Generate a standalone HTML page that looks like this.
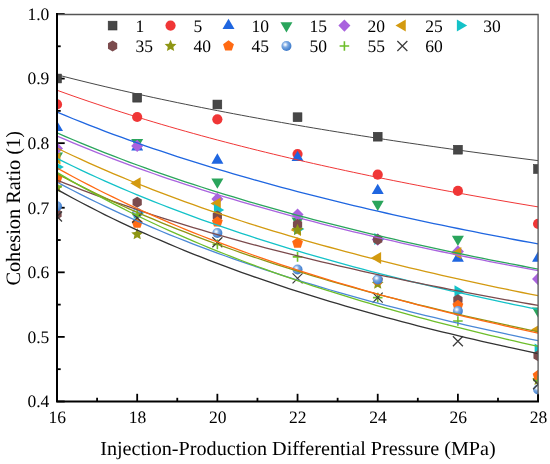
<!DOCTYPE html>
<html><head><meta charset="utf-8"><style>
html,body{margin:0;padding:0;background:#fff;}
text{text-rendering:geometricPrecision;}
svg{display:block;will-change:transform;}
.t{font-family:"Liberation Serif",serif;font-size:17.5px;fill:#000;}
.ti{font-family:"Liberation Serif",serif;font-size:20px;fill:#000;}
</style></head><body>
<svg width="550" height="464" viewBox="0 0 550 464">
<defs>
<radialGradient id="sph" cx="0.38" cy="0.36" r="0.7">
<stop offset="0" stop-color="#ffffff"/><stop offset="0.15" stop-color="#d8e6f7"/><stop offset="0.38" stop-color="#7eaae2"/><stop offset="0.75" stop-color="#4d88d3"/><stop offset="1" stop-color="#3b74c2"/>
</radialGradient>
<clipPath id="pa"><rect x="57" y="14" width="481.1" height="387.5"/></clipPath>
</defs>
<rect x="0" y="0" width="550" height="464" fill="#fff"/>
<path d="M57 401.48H64.7" stroke="#000" stroke-width="1.8"/>
<text x="49.3" y="407.38" class="t" text-anchor="end">0.4</text>
<path d="M57 336.90H64.7" stroke="#000" stroke-width="1.8"/>
<text x="49.3" y="342.80" class="t" text-anchor="end">0.5</text>
<path d="M57 272.32H64.7" stroke="#000" stroke-width="1.8"/>
<text x="49.3" y="278.22" class="t" text-anchor="end">0.6</text>
<path d="M57 207.74H64.7" stroke="#000" stroke-width="1.8"/>
<text x="49.3" y="213.64" class="t" text-anchor="end">0.7</text>
<path d="M57 143.16H64.7" stroke="#000" stroke-width="1.8"/>
<text x="49.3" y="149.06" class="t" text-anchor="end">0.8</text>
<path d="M57 78.58H64.7" stroke="#000" stroke-width="1.8"/>
<text x="49.3" y="84.48" class="t" text-anchor="end">0.9</text>
<path d="M57 14.00H64.7" stroke="#000" stroke-width="1.8"/>
<text x="49.3" y="19.90" class="t" text-anchor="end">1.0</text>
<path d="M57 369.19H60.7" stroke="#000" stroke-width="1.8"/>
<path d="M57 304.61H60.7" stroke="#000" stroke-width="1.8"/>
<path d="M57 240.03H60.7" stroke="#000" stroke-width="1.8"/>
<path d="M57 175.45H60.7" stroke="#000" stroke-width="1.8"/>
<path d="M57 110.87H60.7" stroke="#000" stroke-width="1.8"/>
<path d="M57 46.29H60.7" stroke="#000" stroke-width="1.8"/>
<path d="M57.00 401.5V393.8" stroke="#000" stroke-width="1.8"/>
<text x="57.30" y="422.8" class="t" text-anchor="middle">16</text>
<path d="M137.18 401.5V393.8" stroke="#000" stroke-width="1.8"/>
<text x="137.48" y="422.8" class="t" text-anchor="middle">18</text>
<path d="M217.36 401.5V393.8" stroke="#000" stroke-width="1.8"/>
<text x="217.66" y="422.8" class="t" text-anchor="middle">20</text>
<path d="M297.54 401.5V393.8" stroke="#000" stroke-width="1.8"/>
<text x="297.84" y="422.8" class="t" text-anchor="middle">22</text>
<path d="M377.72 401.5V393.8" stroke="#000" stroke-width="1.8"/>
<text x="378.02" y="422.8" class="t" text-anchor="middle">24</text>
<path d="M457.90 401.5V393.8" stroke="#000" stroke-width="1.8"/>
<text x="458.20" y="422.8" class="t" text-anchor="middle">26</text>
<path d="M538.08 401.5V393.8" stroke="#000" stroke-width="1.8"/>
<text x="538.38" y="422.8" class="t" text-anchor="middle">28</text>
<path d="M97.09 401.5V397.8" stroke="#000" stroke-width="1.8"/>
<path d="M177.27 401.5V397.8" stroke="#000" stroke-width="1.8"/>
<path d="M257.45 401.5V397.8" stroke="#000" stroke-width="1.8"/>
<path d="M337.63 401.5V397.8" stroke="#000" stroke-width="1.8"/>
<path d="M417.81 401.5V397.8" stroke="#000" stroke-width="1.8"/>
<path d="M497.99 401.5V397.8" stroke="#000" stroke-width="1.8"/>
<g clip-path="url(#pa)">
<rect x="52.60" y="74.10" width="8.80" height="8.80" fill="#474747" stroke="#333" stroke-width="0.6"/>
<rect x="132.78" y="93.30" width="8.80" height="8.80" fill="#474747" stroke="#333" stroke-width="0.6"/>
<rect x="212.96" y="100.10" width="8.80" height="8.80" fill="#474747" stroke="#333" stroke-width="0.6"/>
<rect x="293.14" y="112.80" width="8.80" height="8.80" fill="#474747" stroke="#333" stroke-width="0.6"/>
<rect x="373.32" y="132.30" width="8.80" height="8.80" fill="#474747" stroke="#333" stroke-width="0.6"/>
<rect x="453.50" y="145.30" width="8.80" height="8.80" fill="#474747" stroke="#333" stroke-width="0.6"/>
<rect x="533.68" y="164.60" width="8.80" height="8.80" fill="#474747" stroke="#333" stroke-width="0.6"/>
<circle cx="57.00" cy="104.40" r="5.1" fill="#F03636"/>
<circle cx="137.18" cy="117.00" r="5.1" fill="#F03636"/>
<circle cx="217.36" cy="119.30" r="5.1" fill="#F03636"/>
<circle cx="297.54" cy="154.00" r="5.1" fill="#F03636"/>
<circle cx="377.72" cy="174.70" r="5.1" fill="#F03636"/>
<circle cx="457.90" cy="190.90" r="5.1" fill="#F03636"/>
<circle cx="538.08" cy="223.80" r="5.1" fill="#F03636"/>
<polygon points="57.00,120.63 63.00,130.93 51.00,130.93" fill="#1F66E0"/>
<polygon points="137.18,140.13 143.18,150.43 131.18,150.43" fill="#1F66E0"/>
<polygon points="217.36,153.33 223.36,163.63 211.36,163.63" fill="#1F66E0"/>
<polygon points="297.54,150.63 303.54,160.93 291.54,160.93" fill="#1F66E0"/>
<polygon points="377.72,183.73 383.72,194.03 371.72,194.03" fill="#1F66E0"/>
<polygon points="457.90,251.33 463.90,261.63 451.90,261.63" fill="#1F66E0"/>
<polygon points="538.08,251.33 544.08,261.63 532.08,261.63" fill="#1F66E0"/>
<polygon points="57.00,162.87 63.00,152.57 51.00,152.57" fill="#2AA55C"/>
<polygon points="137.18,149.37 143.18,139.07 131.18,139.07" fill="#2AA55C"/>
<polygon points="217.36,188.87 223.36,178.57 211.36,178.57" fill="#2AA55C"/>
<polygon points="297.54,227.87 303.54,217.57 291.54,217.57" fill="#2AA55C"/>
<polygon points="377.72,211.07 383.72,200.77 371.72,200.77" fill="#2AA55C"/>
<polygon points="457.90,246.07 463.90,235.77 451.90,235.77" fill="#2AA55C"/>
<polygon points="538.08,317.87 544.08,307.57 532.08,307.57" fill="#2AA55C"/>
<polygon points="57.00,142.30 63.01,148.50 57.00,154.70 50.99,148.50" fill="#A963DE"/>
<polygon points="137.18,139.70 143.19,145.90 137.18,152.10 131.17,145.90" fill="#A963DE"/>
<polygon points="217.36,192.80 223.37,199.00 217.36,205.20 211.35,199.00" fill="#A963DE"/>
<polygon points="297.54,208.40 303.55,214.60 297.54,220.80 291.53,214.60" fill="#A963DE"/>
<polygon points="377.72,233.30 383.73,239.50 377.72,245.70 371.71,239.50" fill="#A963DE"/>
<polygon points="457.90,245.20 463.91,251.40 457.90,257.60 451.89,251.40" fill="#A963DE"/>
<polygon points="538.08,272.80 544.09,279.00 538.08,285.20 532.07,279.00" fill="#A963DE"/>
<polygon points="50.13,158.40 60.43,152.40 60.43,164.40" fill="#D39A10"/>
<polygon points="130.31,183.30 140.61,177.30 140.61,189.30" fill="#D39A10"/>
<polygon points="210.49,203.50 220.79,197.50 220.79,209.50" fill="#D39A10"/>
<polygon points="290.67,230.00 300.97,224.00 300.97,236.00" fill="#D39A10"/>
<polygon points="370.85,257.90 381.15,251.90 381.15,263.90" fill="#D39A10"/>
<polygon points="451.03,253.10 461.33,247.10 461.33,259.10" fill="#D39A10"/>
<polygon points="531.21,329.50 541.51,323.50 541.51,335.50" fill="#D39A10"/>
<polygon points="63.87,167.00 53.57,161.00 53.57,173.00" fill="#14C2C8"/>
<polygon points="144.05,213.00 133.75,207.00 133.75,219.00" fill="#14C2C8"/>
<polygon points="224.23,210.00 213.93,204.00 213.93,216.00" fill="#14C2C8"/>
<polygon points="304.41,229.00 294.11,223.00 294.11,235.00" fill="#14C2C8"/>
<polygon points="384.59,239.00 374.29,233.00 374.29,245.00" fill="#14C2C8"/>
<polygon points="464.77,291.20 454.47,285.20 454.47,297.20" fill="#14C2C8"/>
<polygon points="544.95,349.50 534.65,343.50 534.65,355.50" fill="#14C2C8"/>
<polygon points="57.00,208.50 61.62,211.25 61.62,216.75 57.00,219.50 52.38,216.75 52.38,211.25" fill="#7B4B4D"/>
<polygon points="137.18,196.80 141.80,199.55 141.80,205.05 137.18,207.80 132.56,205.05 132.56,199.55" fill="#7B4B4D"/>
<polygon points="217.36,210.40 221.98,213.15 221.98,218.65 217.36,221.40 212.74,218.65 212.74,213.15" fill="#7B4B4D"/>
<polygon points="297.54,219.00 302.16,221.75 302.16,227.25 297.54,230.00 292.92,227.25 292.92,221.75" fill="#7B4B4D"/>
<polygon points="377.72,234.00 382.34,236.75 382.34,242.25 377.72,245.00 373.10,242.25 373.10,236.75" fill="#7B4B4D"/>
<polygon points="457.90,294.30 462.52,297.05 462.52,302.55 457.90,305.30 453.28,302.55 453.28,297.05" fill="#7B4B4D"/>
<polygon points="538.08,350.30 542.70,353.05 542.70,358.55 538.08,361.30 533.46,358.55 533.46,353.05" fill="#7B4B4D"/>
<polygon points="57.00,181.30 58.70,185.15 62.90,185.58 59.76,188.40 60.64,192.52 57.00,190.40 53.36,192.52 54.24,188.40 51.10,185.58 55.30,185.15" fill="#8E9614"/>
<polygon points="137.18,228.10 138.88,231.95 143.08,232.38 139.94,235.20 140.82,239.32 137.18,237.20 133.54,239.32 134.42,235.20 131.28,232.38 135.48,231.95" fill="#8E9614"/>
<polygon points="297.54,223.80 299.24,227.65 303.44,228.08 300.30,230.90 301.18,235.02 297.54,232.90 293.90,235.02 294.78,230.90 291.64,228.08 295.84,227.65" fill="#8E9614"/>
<polygon points="377.72,277.60 379.42,281.45 383.62,281.88 380.48,284.70 381.36,288.82 377.72,286.70 374.08,288.82 374.96,284.70 371.82,281.88 376.02,281.45" fill="#8E9614"/>
<polygon points="538.08,373.80 539.78,377.65 543.98,378.08 540.84,380.90 541.72,385.02 538.08,382.90 534.44,385.02 535.32,380.90 532.18,378.08 536.38,377.65" fill="#8E9614"/>
<polygon points="57.00,172.80 62.42,176.74 60.35,183.11 53.65,183.11 51.58,176.74" fill="#FF6A13"/>
<polygon points="137.18,217.50 142.60,221.44 140.53,227.81 133.83,227.81 131.76,221.44" fill="#FF6A13"/>
<polygon points="217.36,216.20 222.78,220.14 220.71,226.51 214.01,226.51 211.94,220.14" fill="#FF6A13"/>
<polygon points="297.54,237.40 302.96,241.34 300.89,247.71 294.19,247.71 292.12,241.34" fill="#FF6A13"/>
<polygon points="377.72,274.30 383.14,278.24 381.07,284.61 374.37,284.61 372.30,278.24" fill="#FF6A13"/>
<polygon points="457.90,299.80 463.32,303.74 461.25,310.11 454.55,310.11 452.48,303.74" fill="#FF6A13"/>
<polygon points="538.08,369.80 543.50,373.74 541.43,380.11 534.73,380.11 532.66,373.74" fill="#FF6A13"/>
<circle cx="57.00" cy="206.20" r="5.0" fill="url(#sph)"/>
<circle cx="137.18" cy="213.00" r="5.0" fill="url(#sph)"/>
<circle cx="217.36" cy="233.00" r="5.0" fill="url(#sph)"/>
<circle cx="297.54" cy="269.50" r="5.0" fill="url(#sph)"/>
<circle cx="377.72" cy="279.50" r="5.0" fill="url(#sph)"/>
<circle cx="457.90" cy="311.00" r="5.0" fill="url(#sph)"/>
<circle cx="538.08" cy="389.50" r="5.0" fill="url(#sph)"/>
<path d="M52.20 187.00H61.80M57.00 182.20V191.80" stroke="#6DBE2A" stroke-width="1.6" fill="none"/>
<path d="M132.38 214.40H141.98M137.18 209.60V219.20" stroke="#6DBE2A" stroke-width="1.6" fill="none"/>
<path d="M212.56 244.40H222.16M217.36 239.60V249.20" stroke="#6DBE2A" stroke-width="1.6" fill="none"/>
<path d="M292.74 256.90H302.34M297.54 252.10V261.70" stroke="#6DBE2A" stroke-width="1.6" fill="none"/>
<path d="M372.92 297.60H382.52M377.72 292.80V302.40" stroke="#6DBE2A" stroke-width="1.6" fill="none"/>
<path d="M453.10 321.00H462.70M457.90 316.20V325.80" stroke="#6DBE2A" stroke-width="1.6" fill="none"/>
<path d="M533.28 380.50H542.88M538.08 375.70V385.30" stroke="#6DBE2A" stroke-width="1.6" fill="none"/>
<path d="M52.00 211.50L62.00 221.50M62.00 211.50L52.00 221.50" stroke="#3c3c3c" stroke-width="1.25" fill="none"/>
<path d="M132.18 212.80L142.18 222.80M142.18 212.80L132.18 222.80" stroke="#3c3c3c" stroke-width="1.25" fill="none"/>
<path d="M212.36 237.30L222.36 247.30M222.36 237.30L212.36 247.30" stroke="#3c3c3c" stroke-width="1.25" fill="none"/>
<path d="M292.54 273.40L302.54 283.40M302.54 273.40L292.54 283.40" stroke="#3c3c3c" stroke-width="1.25" fill="none"/>
<path d="M372.72 292.60L382.72 302.60M382.72 292.60L372.72 302.60" stroke="#3c3c3c" stroke-width="1.25" fill="none"/>
<path d="M452.90 336.20L462.90 346.20M462.90 336.20L452.90 346.20" stroke="#3c3c3c" stroke-width="1.25" fill="none"/>
<path d="M533.08 379.30L543.08 389.30M543.08 379.30L533.08 389.30" stroke="#3c3c3c" stroke-width="1.25" fill="none"/>
<path d="M57.00 74.75 L65.02 76.81 L73.04 78.83 L81.05 80.82 L89.07 82.79 L97.09 84.72 L105.11 86.63 L113.13 88.50 L121.14 90.35 L129.16 92.17 L137.18 93.97 L145.20 95.74 L153.22 97.49 L161.23 99.21 L169.25 100.90 L177.27 102.58 L185.29 104.23 L193.31 105.86 L201.32 107.47 L209.34 109.06 L217.36 110.63 L225.38 112.17 L233.40 113.70 L241.41 115.21 L249.43 116.70 L257.45 118.17 L265.47 119.63 L273.49 121.06 L281.50 122.48 L289.52 123.89 L297.54 125.27 L305.56 126.64 L313.58 128.00 L321.59 129.34 L329.61 130.66 L337.63 131.97 L345.65 133.26 L353.67 134.54 L361.68 135.81 L369.70 137.06 L377.72 138.30 L385.74 139.53 L393.76 140.74 L401.77 141.94 L409.79 143.13 L417.81 144.31 L425.83 145.47 L433.85 146.62 L441.86 147.76 L449.88 148.89 L457.90 150.01 L465.92 151.12 L473.94 152.21 L481.95 153.30 L489.97 154.37 L497.99 155.44 L506.01 156.49 L514.03 157.54 L522.04 158.57 L530.06 159.60 L538.08 160.61" stroke="#474747" stroke-width="1.0" fill="none"/>
<path d="M57.00 90.23 L65.02 93.12 L73.04 95.97 L81.05 98.76 L89.07 101.50 L97.09 104.20 L105.11 106.86 L113.13 109.47 L121.14 112.04 L129.16 114.57 L137.18 117.06 L145.20 119.51 L153.22 121.92 L161.23 124.30 L169.25 126.64 L177.27 128.94 L185.29 131.21 L193.31 133.45 L201.32 135.66 L209.34 137.83 L217.36 139.98 L225.38 142.09 L233.40 144.17 L241.41 146.23 L249.43 148.26 L257.45 150.26 L265.47 152.23 L273.49 154.18 L281.50 156.10 L289.52 158.00 L297.54 159.88 L305.56 161.72 L313.58 163.55 L321.59 165.35 L329.61 167.13 L337.63 168.89 L345.65 170.63 L353.67 172.35 L361.68 174.04 L369.70 175.72 L377.72 177.38 L385.74 179.01 L393.76 180.63 L401.77 182.23 L409.79 183.81 L417.81 185.37 L425.83 186.92 L433.85 188.45 L441.86 189.96 L449.88 191.45 L457.90 192.93 L465.92 194.40 L473.94 195.84 L481.95 197.28 L489.97 198.69 L497.99 200.09 L506.01 201.48 L514.03 202.85 L522.04 204.21 L530.06 205.56 L538.08 206.89" stroke="#F03636" stroke-width="1.0" fill="none"/>
<path d="M57.00 112.14 L65.02 115.47 L73.04 118.75 L81.05 121.97 L89.07 125.13 L97.09 128.23 L105.11 131.28 L113.13 134.28 L121.14 137.22 L129.16 140.12 L137.18 142.97 L145.20 145.77 L153.22 148.53 L161.23 151.24 L169.25 153.91 L177.27 156.54 L185.29 159.12 L193.31 161.67 L201.32 164.18 L209.34 166.64 L217.36 169.08 L225.38 171.47 L233.40 173.83 L241.41 176.16 L249.43 178.45 L257.45 180.72 L265.47 182.94 L273.49 185.14 L281.50 187.31 L289.52 189.45 L297.54 191.56 L305.56 193.64 L313.58 195.69 L321.59 197.71 L329.61 199.71 L337.63 201.68 L345.65 203.63 L353.67 205.55 L361.68 207.45 L369.70 209.33 L377.72 211.18 L385.74 213.00 L393.76 214.81 L401.77 216.59 L409.79 218.36 L417.81 220.10 L425.83 221.82 L433.85 223.52 L441.86 225.20 L449.88 226.86 L457.90 228.50 L465.92 230.12 L473.94 231.73 L481.95 233.31 L489.97 234.88 L497.99 236.43 L506.01 237.97 L514.03 239.49 L522.04 240.99 L530.06 242.47 L538.08 243.94" stroke="#1F66E0" stroke-width="1.3" fill="none"/>
<path d="M57.00 132.85 L65.02 136.34 L73.04 139.76 L81.05 143.12 L89.07 146.41 L97.09 149.65 L105.11 152.82 L113.13 155.95 L121.14 159.01 L129.16 162.03 L137.18 164.99 L145.20 167.90 L153.22 170.77 L161.23 173.58 L169.25 176.35 L177.27 179.08 L185.29 181.76 L193.31 184.40 L201.32 187.00 L209.34 189.55 L217.36 192.07 L225.38 194.55 L233.40 196.99 L241.41 199.40 L249.43 201.77 L257.45 204.11 L265.47 206.41 L273.49 208.68 L281.50 210.91 L289.52 213.12 L297.54 215.29 L305.56 217.44 L313.58 219.55 L321.59 221.64 L329.61 223.69 L337.63 225.72 L345.65 227.73 L353.67 229.70 L361.68 231.65 L369.70 233.58 L377.72 235.48 L385.74 237.36 L393.76 239.21 L401.77 241.04 L409.79 242.85 L417.81 244.64 L425.83 246.40 L433.85 248.14 L441.86 249.86 L449.88 251.56 L457.90 253.24 L465.92 254.91 L473.94 256.55 L481.95 258.17 L489.97 259.77 L497.99 261.36 L506.01 262.93 L514.03 264.48 L522.04 266.01 L530.06 267.53 L538.08 269.03" stroke="#2AA55C" stroke-width="1.3" fill="none"/>
<path d="M57.00 136.00 L65.02 139.45 L73.04 142.83 L81.05 146.14 L89.07 149.40 L97.09 152.60 L105.11 155.74 L113.13 158.83 L121.14 161.86 L129.16 164.84 L137.18 167.77 L145.20 170.65 L153.22 173.49 L161.23 176.27 L169.25 179.01 L177.27 181.71 L185.29 184.36 L193.31 186.97 L201.32 189.54 L209.34 192.07 L217.36 194.56 L225.38 197.01 L233.40 199.43 L241.41 201.81 L249.43 204.15 L257.45 206.46 L265.47 208.74 L273.49 210.99 L281.50 213.20 L289.52 215.38 L297.54 217.53 L305.56 219.65 L313.58 221.74 L321.59 223.81 L329.61 225.84 L337.63 227.85 L345.65 229.84 L353.67 231.79 L361.68 233.72 L369.70 235.63 L377.72 237.51 L385.74 239.37 L393.76 241.20 L401.77 243.02 L409.79 244.80 L417.81 246.57 L425.83 248.32 L433.85 250.04 L441.86 251.75 L449.88 253.43 L457.90 255.09 L465.92 256.74 L473.94 258.36 L481.95 259.97 L489.97 261.56 L497.99 263.13 L506.01 264.68 L514.03 266.21 L522.04 267.73 L530.06 269.23 L538.08 270.72" stroke="#A963DE" stroke-width="1.3" fill="none"/>
<path d="M57.00 148.13 L65.02 151.98 L73.04 155.76 L81.05 159.46 L89.07 163.09 L97.09 166.65 L105.11 170.14 L113.13 173.57 L121.14 176.94 L129.16 180.24 L137.18 183.49 L145.20 186.68 L153.22 189.81 L161.23 192.89 L169.25 195.92 L177.27 198.89 L185.29 201.82 L193.31 204.69 L201.32 207.52 L209.34 210.30 L217.36 213.04 L225.38 215.74 L233.40 218.39 L241.41 221.00 L249.43 223.57 L257.45 226.10 L265.47 228.59 L273.49 231.05 L281.50 233.46 L289.52 235.85 L297.54 238.19 L305.56 240.51 L313.58 242.79 L321.59 245.03 L329.61 247.25 L337.63 249.43 L345.65 251.59 L353.67 253.71 L361.68 255.81 L369.70 257.87 L377.72 259.91 L385.74 261.93 L393.76 263.91 L401.77 265.87 L409.79 267.81 L417.81 269.72 L425.83 271.60 L433.85 273.46 L441.86 275.30 L449.88 277.11 L457.90 278.91 L465.92 280.68 L473.94 282.43 L481.95 284.15 L489.97 285.86 L497.99 287.55 L506.01 289.21 L514.03 290.86 L522.04 292.49 L530.06 294.10 L538.08 295.69" stroke="#D39A10" stroke-width="1.3" fill="none"/>
<path d="M57.00 158.41 L65.02 162.39 L73.04 166.28 L81.05 170.10 L89.07 173.84 L97.09 177.51 L105.11 181.11 L113.13 184.64 L121.14 188.10 L129.16 191.51 L137.18 194.85 L145.20 198.12 L153.22 201.34 L161.23 204.51 L169.25 207.62 L177.27 210.67 L185.29 213.67 L193.31 216.62 L201.32 219.52 L209.34 222.38 L217.36 225.19 L225.38 227.95 L233.40 230.66 L241.41 233.34 L249.43 235.97 L257.45 238.56 L265.47 241.11 L273.49 243.62 L281.50 246.09 L289.52 248.52 L297.54 250.92 L305.56 253.28 L313.58 255.61 L321.59 257.91 L329.61 260.17 L337.63 262.40 L345.65 264.60 L353.67 266.76 L361.68 268.90 L369.70 271.01 L377.72 273.08 L385.74 275.13 L393.76 277.16 L401.77 279.15 L409.79 281.12 L417.81 283.06 L425.83 284.98 L433.85 286.87 L441.86 288.74 L449.88 290.59 L457.90 292.41 L465.92 294.21 L473.94 295.98 L481.95 297.74 L489.97 299.47 L497.99 301.18 L506.01 302.87 L514.03 304.55 L522.04 306.20 L530.06 307.83 L538.08 309.44" stroke="#14C2C8" stroke-width="1.3" fill="none"/>
<path d="M57.00 180.07 L65.02 183.28 L73.04 186.43 L81.05 189.52 L89.07 192.56 L97.09 195.54 L105.11 198.47 L113.13 201.35 L121.14 204.17 L129.16 206.95 L137.18 209.68 L145.20 212.36 L153.22 215.00 L161.23 217.59 L169.25 220.14 L177.27 222.65 L185.29 225.12 L193.31 227.55 L201.32 229.94 L209.34 232.30 L217.36 234.61 L225.38 236.90 L233.40 239.14 L241.41 241.36 L249.43 243.54 L257.45 245.69 L265.47 247.81 L273.49 249.89 L281.50 251.95 L289.52 253.98 L297.54 255.98 L305.56 257.95 L313.58 259.90 L321.59 261.82 L329.61 263.71 L337.63 265.57 L345.65 267.42 L353.67 269.23 L361.68 271.03 L369.70 272.80 L377.72 274.55 L385.74 276.27 L393.76 277.98 L401.77 279.66 L409.79 281.32 L417.81 282.96 L425.83 284.58 L433.85 286.18 L441.86 287.76 L449.88 289.33 L457.90 290.87 L465.92 292.40 L473.94 293.91 L481.95 295.40 L489.97 296.87 L497.99 298.33 L506.01 299.77 L514.03 301.19 L522.04 302.60 L530.06 303.99 L538.08 305.37" stroke="#7B4B4D" stroke-width="1.3" fill="none"/>
<path d="M57.00 173.80 L65.02 178.02 L73.04 182.15 L81.05 186.20 L89.07 190.17 L97.09 194.05 L105.11 197.86 L113.13 201.59 L121.14 205.25 L129.16 208.84 L137.18 212.37 L145.20 215.82 L153.22 219.22 L161.23 222.55 L169.25 225.82 L177.27 229.03 L185.29 232.18 L193.31 235.28 L201.32 238.33 L209.34 241.32 L217.36 244.26 L225.38 247.15 L233.40 250.00 L241.41 252.79 L249.43 255.55 L257.45 258.25 L265.47 260.91 L273.49 263.54 L281.50 266.11 L289.52 268.65 L297.54 271.15 L305.56 273.61 L313.58 276.04 L321.59 278.42 L329.61 280.77 L337.63 283.09 L345.65 285.37 L353.67 287.62 L361.68 289.84 L369.70 292.02 L377.72 294.18 L385.74 296.30 L393.76 298.40 L401.77 300.46 L409.79 302.50 L417.81 304.51 L425.83 306.49 L433.85 308.44 L441.86 310.37 L449.88 312.27 L457.90 314.15 L465.92 316.01 L473.94 317.84 L481.95 319.64 L489.97 321.43 L497.99 323.19 L506.01 324.93 L514.03 326.65 L522.04 328.34 L530.06 330.02 L538.08 331.67" stroke="#8E9614" stroke-width="1.3" fill="none"/>
<path d="M57.00 167.95 L65.02 172.39 L73.04 176.74 L81.05 181.00 L89.07 185.17 L97.09 189.26 L105.11 193.26 L113.13 197.19 L121.14 201.03 L129.16 204.81 L137.18 208.51 L145.20 212.13 L153.22 215.69 L161.23 219.19 L169.25 222.62 L177.27 225.99 L185.29 229.29 L193.31 232.54 L201.32 235.73 L209.34 238.86 L217.36 241.94 L225.38 244.97 L233.40 247.95 L241.41 250.87 L249.43 253.75 L257.45 256.58 L265.47 259.36 L273.49 262.10 L281.50 264.79 L289.52 267.44 L297.54 270.05 L305.56 272.62 L313.58 275.15 L321.59 277.64 L329.61 280.09 L337.63 282.51 L345.65 284.89 L353.67 287.23 L361.68 289.54 L369.70 291.82 L377.72 294.06 L385.74 296.27 L393.76 298.45 L401.77 300.60 L409.79 302.72 L417.81 304.81 L425.83 306.87 L433.85 308.90 L441.86 310.91 L449.88 312.88 L457.90 314.84 L465.92 316.76 L473.94 318.66 L481.95 320.54 L489.97 322.39 L497.99 324.22 L506.01 326.02 L514.03 327.81 L522.04 329.57 L530.06 331.30 L538.08 333.02" stroke="#FF6A13" stroke-width="1.3" fill="none"/>
<path d="M57.00 182.09 L65.02 186.35 L73.04 190.52 L81.05 194.60 L89.07 198.60 L97.09 202.52 L105.11 206.36 L113.13 210.13 L121.14 213.82 L129.16 217.43 L137.18 220.98 L145.20 224.47 L153.22 227.88 L161.23 231.24 L169.25 234.53 L177.27 237.76 L185.29 240.93 L193.31 244.05 L201.32 247.12 L209.34 250.12 L217.36 253.08 L225.38 255.99 L233.40 258.85 L241.41 261.66 L249.43 264.42 L257.45 267.14 L265.47 269.82 L273.49 272.45 L281.50 275.04 L289.52 277.58 L297.54 280.09 L305.56 282.56 L313.58 284.99 L321.59 287.39 L329.61 289.75 L337.63 292.07 L345.65 294.36 L353.67 296.61 L361.68 298.83 L369.70 301.02 L377.72 303.18 L385.74 305.31 L393.76 307.41 L401.77 309.47 L409.79 311.51 L417.81 313.52 L425.83 315.51 L433.85 317.46 L441.86 319.39 L449.88 321.30 L457.90 323.18 L465.92 325.03 L473.94 326.86 L481.95 328.67 L489.97 330.45 L497.99 332.21 L506.01 333.95 L514.03 335.67 L522.04 337.36 L530.06 339.04 L538.08 340.69" stroke="#4A88D6" stroke-width="1.3" fill="none"/>
<path d="M57.00 172.40 L65.02 177.15 L73.04 181.80 L81.05 186.35 L89.07 190.80 L97.09 195.16 L105.11 199.43 L113.13 203.61 L121.14 207.70 L129.16 211.71 L137.18 215.64 L145.20 219.50 L153.22 223.28 L161.23 226.98 L169.25 230.62 L177.27 234.19 L185.29 237.69 L193.31 241.13 L201.32 244.50 L209.34 247.81 L217.36 251.07 L225.38 254.26 L233.40 257.40 L241.41 260.49 L249.43 263.52 L257.45 266.50 L265.47 269.43 L273.49 272.31 L281.50 275.14 L289.52 277.93 L297.54 280.67 L305.56 283.37 L313.58 286.02 L321.59 288.63 L329.61 291.20 L337.63 293.73 L345.65 296.22 L353.67 298.68 L361.68 301.09 L369.70 303.47 L377.72 305.82 L385.74 308.13 L393.76 310.40 L401.77 312.65 L409.79 314.86 L417.81 317.04 L425.83 319.18 L433.85 321.30 L441.86 323.39 L449.88 325.45 L457.90 327.48 L465.92 329.48 L473.94 331.46 L481.95 333.40 L489.97 335.33 L497.99 337.23 L506.01 339.10 L514.03 340.95 L522.04 342.77 L530.06 344.57 L538.08 346.35" stroke="#6DBE2A" stroke-width="1.3" fill="none"/>
<path d="M57.00 189.43 L65.02 193.89 L73.04 198.25 L81.05 202.52 L89.07 206.70 L97.09 210.79 L105.11 214.80 L113.13 218.73 L121.14 222.58 L129.16 226.35 L137.18 230.05 L145.20 233.68 L153.22 237.24 L161.23 240.72 L169.25 244.15 L177.27 247.51 L185.29 250.80 L193.31 254.04 L201.32 257.22 L209.34 260.34 L217.36 263.41 L225.38 266.42 L233.40 269.39 L241.41 272.30 L249.43 275.16 L257.45 277.97 L265.47 280.73 L273.49 283.45 L281.50 286.13 L289.52 288.76 L297.54 291.35 L305.56 293.90 L313.58 296.41 L321.59 298.88 L329.61 301.31 L337.63 303.70 L345.65 306.06 L353.67 308.38 L361.68 310.66 L369.70 312.92 L377.72 315.14 L385.74 317.32 L393.76 319.48 L401.77 321.60 L409.79 323.70 L417.81 325.76 L425.83 327.79 L433.85 329.80 L441.86 331.78 L449.88 333.73 L457.90 335.66 L465.92 337.56 L473.94 339.43 L481.95 341.28 L489.97 343.10 L497.99 344.90 L506.01 346.68 L514.03 348.44 L522.04 350.17 L530.06 351.88 L538.08 353.57" stroke="#333333" stroke-width="1.3" fill="none"/>
</g>
<path d="M57 14.5H538.1V401.5" stroke="#555" stroke-width="1.3" fill="none"/>
<path d="M57 13V401.5H539" stroke="#000" stroke-width="2" fill="none"/>
<path d="M538.1 401.5V394.6" stroke="#000" stroke-width="1.8"/>
<rect x="108.20" y="21.20" width="8.80" height="8.80" fill="#474747" stroke="#333" stroke-width="0.6"/>
<text x="135.60" y="32.00" class="t">1</text>
<circle cx="170.55" cy="25.60" r="5.1" fill="#F03636"/>
<text x="193.55" y="32.00" class="t">5</text>
<polygon points="228.50,18.73 234.50,29.03 222.50,29.03" fill="#1F66E0"/>
<text x="251.50" y="32.00" class="t">10</text>
<polygon points="286.45,32.47 292.45,22.17 280.45,22.17" fill="#2AA55C"/>
<text x="309.45" y="32.00" class="t">15</text>
<polygon points="344.40,19.40 350.41,25.60 344.40,31.80 338.39,25.60" fill="#A963DE"/>
<text x="367.40" y="32.00" class="t">20</text>
<polygon points="395.48,25.60 405.78,19.60 405.78,31.60" fill="#D39A10"/>
<text x="425.35" y="32.00" class="t">25</text>
<polygon points="467.17,25.60 456.87,19.60 456.87,31.60" fill="#14C2C8"/>
<text x="483.30" y="32.00" class="t">30</text>
<polygon points="112.60,40.50 117.22,43.25 117.22,48.75 112.60,51.50 107.98,48.75 107.98,43.25" fill="#7B4B4D"/>
<text x="135.60" y="52.40" class="t">35</text>
<polygon points="170.55,39.80 172.25,43.65 176.45,44.08 173.31,46.90 174.19,51.02 170.55,48.90 166.91,51.02 167.79,46.90 164.65,44.08 168.85,43.65" fill="#8E9614"/>
<text x="193.55" y="52.40" class="t">40</text>
<polygon points="228.50,40.30 233.92,44.24 231.85,50.61 225.15,50.61 223.08,44.24" fill="#FF6A13"/>
<text x="251.50" y="52.40" class="t">45</text>
<circle cx="286.45" cy="46.00" r="5.0" fill="url(#sph)"/>
<text x="309.45" y="52.40" class="t">50</text>
<path d="M339.60 46.00H349.20M344.40 41.20V50.80" stroke="#6DBE2A" stroke-width="1.6" fill="none"/>
<text x="367.40" y="52.40" class="t">55</text>
<path d="M397.35 41.00L407.35 51.00M407.35 41.00L397.35 51.00" stroke="#3c3c3c" stroke-width="1.25" fill="none"/>
<text x="425.35" y="52.40" class="t">60</text>
<text x="100.2" y="454.5" class="ti" textLength="395.5" lengthAdjust="spacingAndGlyphs">Injection-Production Differential Pressure (MPa)</text>
<text transform="translate(19.6 285.6) rotate(-90)" class="ti" style="font-size:20.4px" textLength="154.6" lengthAdjust="spacingAndGlyphs">Cohesion Ratio (1)</text>
</svg>
</body></html>
